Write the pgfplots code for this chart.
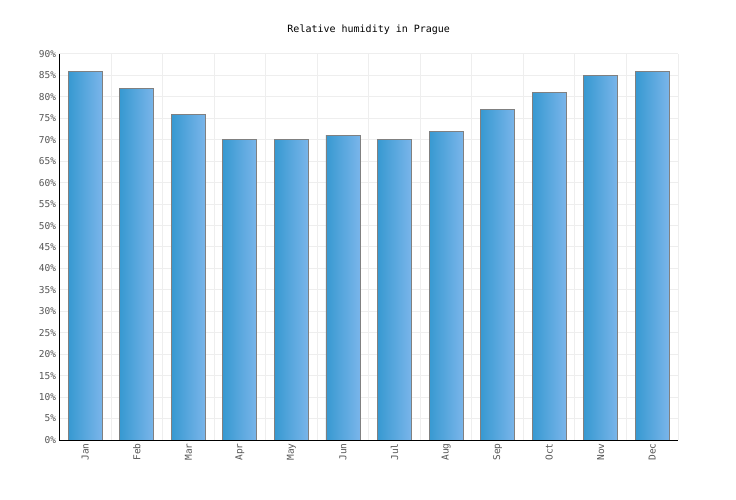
\documentclass[border=0pt]{standalone}
\usepackage{fontspec}
\setmainfont{DejaVu Sans Mono}
\usepackage{pgfplots}
\pgfplotsset{compat=1.18}
\definecolor{barleft}{RGB}{55,153,209}
\definecolor{barright}{RGB}{122,181,234}
\definecolor{gridgray}{RGB}{238,238,238}
\definecolor{ticktext}{RGB}{85,85,85}
\pgfplotsset{humbar/.style={ybar, bar shift=0pt, bar width=34bp, mark=none,
    draw=gray, line width=0.8bp, left color=barleft, right color=barright}}

\begin{document}
\fontsize{9.5bp}{11bp}\selectfont
\begin{tikzpicture}
\begin{axis}[
    at={(0,0)}, anchor=south west,
    scale only axis,
    width=618.5bp,
    height=386bp,
    xmin=-0.5, xmax=11.5,
    ymin=0, ymax=90,
    xtick={0,...,11},
    xticklabels={Jan,Feb,Mar,Apr,May,Jun,Jul,Aug,Sep,Oct,Nov,Dec},
    minor xtick={-0.5,0.5,...,11.5},
    ytick={0,5,...,90},
    yticklabel={\pgfmathprintnumber{\tick}\%},
    /pgf/number format/assume math mode=true,
    xticklabel style={rotate=90, anchor=east, font=\fontsize{9.5bp}{11bp}\selectfont, text=ticktext},
    yticklabel style={font=\fontsize{9.5bp}{11bp}\selectfont, text=ticktext},
    major tick length=0pt, minor tick length=0pt,
    ymajorgrids, xminorgrids,
    grid style={gridgray, line width=1bp},
    axis line style={draw=none},
    title={Relative humidity in Prague},
    title style={font=\fontsize{10bp}{12bp}\selectfont, yshift=10bp},
    clip=false,
]
% one bar per plot so that each bar gets its own gradient
\addplot[humbar] coordinates {(0,86)};
\addplot[humbar] coordinates {(1,82)};
\addplot[humbar] coordinates {(2,76)};
\addplot[humbar] coordinates {(3,70)};
\addplot[humbar] coordinates {(4,70)};
\addplot[humbar] coordinates {(5,71)};
\addplot[humbar] coordinates {(6,70)};
\addplot[humbar] coordinates {(7,72)};
\addplot[humbar] coordinates {(8,77)};
\addplot[humbar] coordinates {(9,81)};
\addplot[humbar] coordinates {(10,85)};
\addplot[humbar] coordinates {(11,86)};
\draw[black, line width=1bp] (axis cs:-0.5,90) -- (axis cs:-0.5,0) -- (axis cs:11.5,0);
\end{axis}
\path[use as bounding box] (-59.5bp,-60bp) rectangle (676.5bp,440bp);
\end{tikzpicture}
\end{document}
